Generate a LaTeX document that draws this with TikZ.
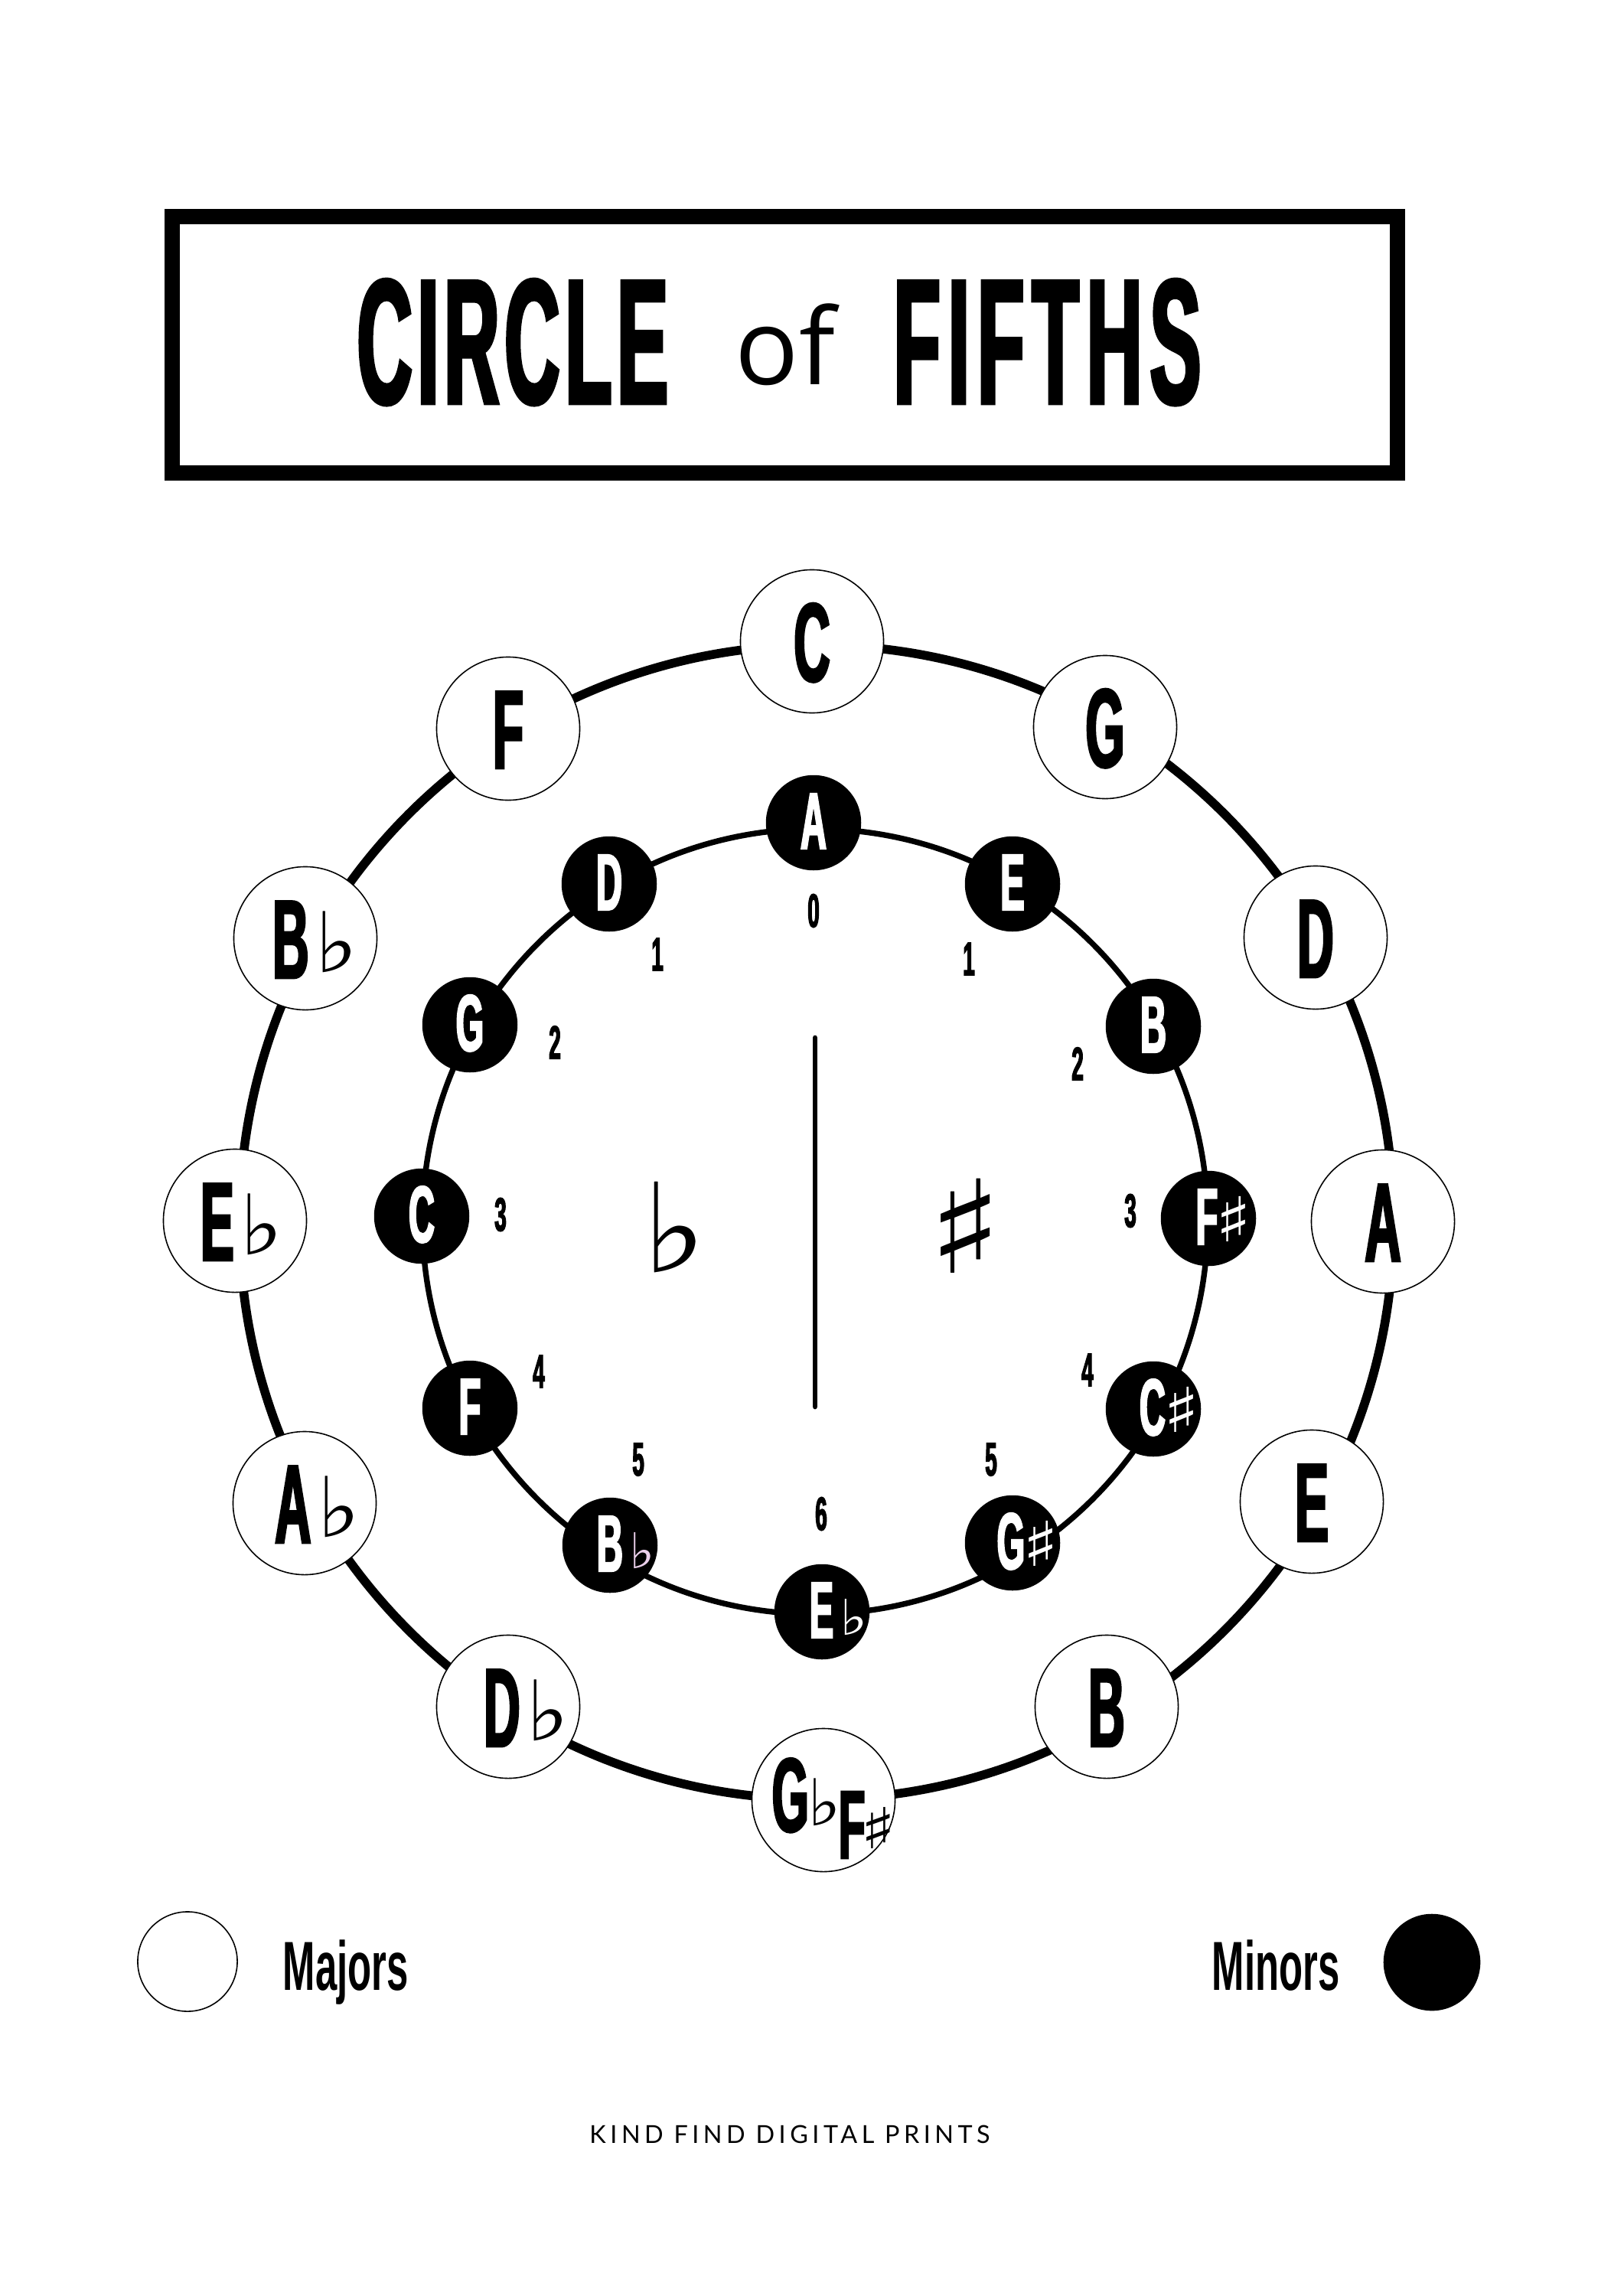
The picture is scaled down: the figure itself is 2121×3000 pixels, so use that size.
\documentclass[tikz,border=0pt]{standalone}
\usepackage{fontspec}
\usetikzlibrary{calc}
\setmainfont{Liberation Sans}
\newfontfamily\cond[FakeStretch=0.45,FakeBold=2]{Liberation Sans Bold}
\newfontfamily\titleA[FakeStretch=0.43,FakeBold=2,LetterSpace=3]{Liberation Sans Bold}
\newfontfamily\titleB[FakeStretch=0.43,FakeBold=2,LetterSpace=4.5]{Liberation Sans Bold}
\newfontfamily\condb[FakeStretch=0.56]{Liberation Sans Bold}
\newfontfamily\ofont{Open Sans}
\newfontfamily\foot[LetterSpace=17]{Lato}
\newfontfamily\symf[FakeStretch=1.1]{DejaVu Sans}
\newfontfamily\symw[FakeStretch=1.2]{DejaVu Sans}
\newfontfamily\symx[FakeStretch=1.3]{DejaVu Sans}
\definecolor{flatpink}{HTML}{EBD0EB}
\newcommand{\mjF}{\hspace{2.2pt}\raisebox{2pt}{\fontsize{31}{31}\selectfont\symf ♭}}
\newcommand{\gbF}{\hspace{-0.4pt}\raisebox{2pt}{\fontsize{24}{24}\selectfont\symf ♭}}
\newcommand{\fsS}{\hspace{-1.6pt}\raisebox{3.7pt}{\fontsize{21}{21}\selectfont\symx ♯}}
\newcommand{\mnF}{\hspace{2.5pt}\raisebox{1pt}{\fontsize{18.3}{18.3}\selectfont\symw ♭}}
\newcommand{\mnP}{\hspace{2.5pt}\raisebox{1pt}{\fontsize{18.3}{18.3}\selectfont\symf\textcolor{flatpink}{♭}}}
\newcommand{\mnS}{\hspace{-0.8pt}\raisebox{1pt}{\fontsize{23}{23}\selectfont\symw ♯}}
\tikzset{
  x=0.01cm,y=-0.01cm,
  majkey/.style={circle,draw=black,line width=0.45pt,fill=white,minimum size=53.2pt,inner sep=0pt},
  minkey/.style={circle,fill=black,minimum size=35.4pt,inner sep=0pt},
  majtxt/.style={inner sep=0pt,anchor=base,text=black,font=\fontsize{41.5}{42}\selectfont\cond},
  mintxt/.style={inner sep=0pt,anchor=base,text=white,font=\fontsize{29.8}{30}\selectfont\cond},
  numtxt/.style={inner sep=0pt,font=\fontsize{17.6}{17.6}\selectfont\cond},
  legendtxt/.style={inner sep=0pt,anchor=base west,font=\fontsize{25.8}{26}\selectfont\condb},
}
\newcommand{\maj}[4]{\node[majkey] (#1) at (#2) {};\node[majtxt] at ($(#1)+(#3,52)$) {#4};}
\newcommand{\mnr}[4]{\node[minkey] (#1) at (#2) {};\node[mintxt] at ($(#1)+(#3,34)$) {#4};}
\begin{document}
\begin{tikzpicture}
\useasboundingbox (0,0) rectangle (2121,3000);
% title
\draw[line width=5.69pt] (225,283) rectangle (1826,618);
\node[inner sep=0pt,anchor=base west,font=\fontsize{66}{66}\selectfont\titleA] (t1) at (466,527) {CIRCLE};
\node[inner sep=0pt,anchor=base west,font=\fontsize{39.3}{40}\selectfont\ofont] (t2) at (960,502) {of};
\node[inner sep=0pt,anchor=base west,font=\fontsize{66}{66}\selectfont\titleB] (t3) at (1167,527) {FIFTHS};
% rings
\draw[line width=3.3pt] (1067,1597) circle (754);
\draw[line width=2.1pt] (1065,1596) circle (513);
% outer
\maj{oC}{1061,838}{0}{C}
\maj{oG}{1444,950}{0}{G}
\maj{oD}{1719,1225}{0}{D}
\maj{oA}{1807,1596}{0}{A}
\maj{oE}{1714,1962}{0}{E}
\maj{oB}{1446,2230}{0}{B}
\maj{oDb}{664,2230}{24}{D\mjF}
\maj{oAb}{398,1964}{17}{A\mjF}
\maj{oEb}{307,1595}{9}{E\mjF}
\maj{oBb}{399,1226}{13}{B\mjF}
\maj{oF}{664,952}{0}{F}
% G flat / F sharp
\node[majkey] (oGF) at (1076,2352) {};
\node[majtxt,anchor=base west,font=\fontsize{39}{39}\selectfont\cond] (tGb) at (1008,2393) {G\gbF};
\node[majtxt,anchor=base west,font=\fontsize{36}{36}\selectfont\cond] (tFs) at (1095,2428) {F\fsS};
% inner
\mnr{iA}{1063,1075}{0}{A}
\mnr{iE}{1323,1155}{0}{E}
\mnr{iB}{1507,1341}{0}{B}
\mnr{iFs}{1579,1592}{20}{F\mnS}
\mnr{iCs}{1507,1841}{21}{C\mnS}
\mnr{iGs}{1323,2016}{20}{G\mnS}
\mnr{iEb}{1074,2106}{22}{E\mnF}
\mnr{iBb}{797,2019}{21}{B\mnP}
\mnr{iF}{614,1840}{0}{F}
\mnr{iC}{551,1589}{0}{C}
\mnr{iG}{614,1339}{0}{G}
\mnr{iD}{796,1155}{0}{D}
% numbers
\node[numtxt] (n0) at (1063,1190) {0};
\node[numtxt] (n1a) at (859,1247) {1};
\node[numtxt] (n1b) at (1266,1253) {1};
\node[numtxt] (n2a) at (725,1362) {2};
\node[numtxt] (n2b) at (1408,1390) {2};
\node[numtxt] (n3a) at (654,1587) {3};
\node[numtxt] (n3b) at (1477,1582) {3};
\node[numtxt] (n4a) at (704,1792) {4};
\node[numtxt] (n4b) at (1421,1790) {4};
\node[numtxt] (n5a) at (834,1907) {5};
\node[numtxt] (n5b) at (1295,1907) {5};
\node[numtxt] (n6) at (1073,1978) {6};
% centre
\coordinate (lt) at (1065,1356);
\coordinate (lb) at (1065,1838);
\draw[line width=1.9pt,line cap=round] (lt) -- (lb);
\node[inner sep=0pt,font=\fontsize{46}{46}\selectfont\symf] (flatc) at (881,1604) {♭};
\node[inner sep=0pt,font=\fontsize{48}{48}\selectfont\symw] (sharpc) at (1261,1602) {♯};
% legend
\node[circle,draw=black,line width=0.45pt,minimum size=37pt,inner sep=0pt] (lgM) at (245,2563) {};
\node[circle,fill=black,minimum size=36pt,inner sep=0pt] (lgm) at (1871,2564) {};
\node[legendtxt] (tM) at (369,2600) {Majors};
\node[legendtxt] (tm) at (1583,2600) {Minors};
\node[inner sep=0pt,font=\fontsize{9.2}{10}\selectfont\foot] (ft) at (1032,2789) {KIND FIND DIGITAL PRINTS};
\end{tikzpicture}
\end{document}
